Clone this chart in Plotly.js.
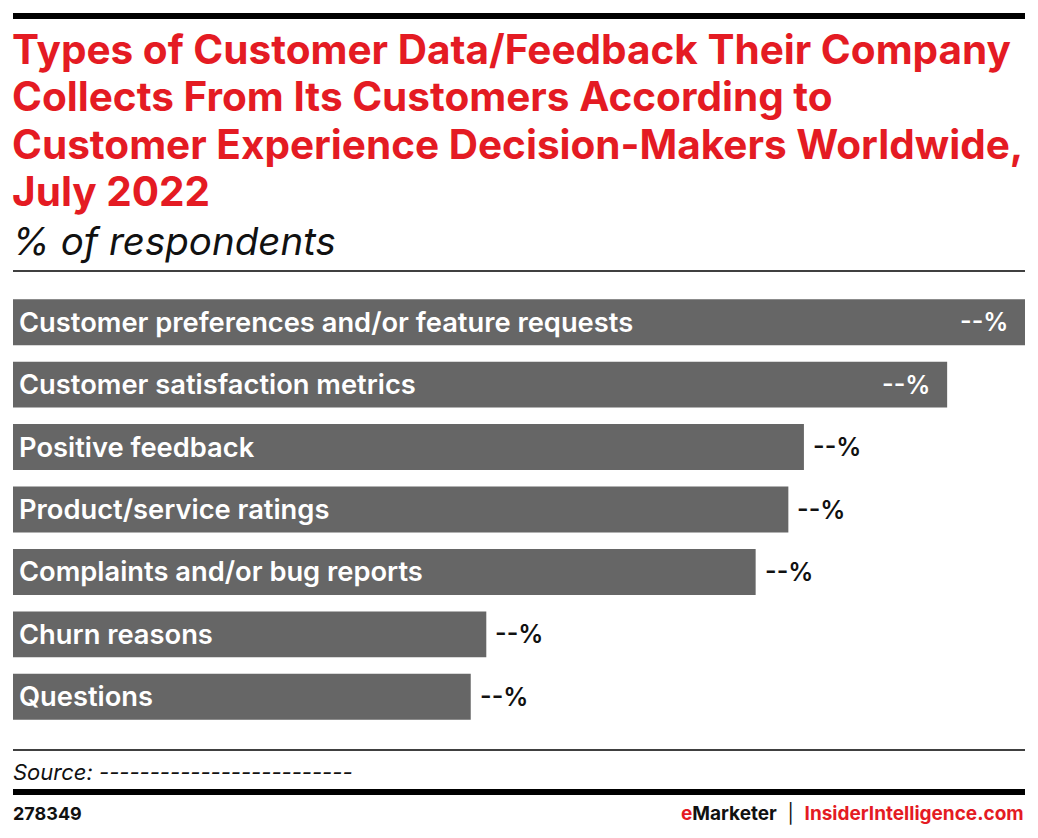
<!DOCTYPE html>
<html>
<head>
<meta charset="utf-8">
<script src="https://cdn.plot.ly/plotly-3.0.1.min.js"></script>
<style>html,body{margin:0;padding:0;background:#fff;}#chart{width:1038px;height:838px;}</style>
</head>
<body>
<div id="chart"></div>
<script>
const categories = [
  "Customer preferences and/or feature requests",
  "Customer satisfaction metrics",
  "Positive feedback",
  "Product/service ratings",
  "Complaints and/or bug reports",
  "Churn reasons",
  "Questions"
];
const values = [65, 60, 50.8, 49.8, 47.7, 30.4, 29.4];
const valueLabels = ["--%", "--%", "--%", "--%", "--%", "--%", "--%"];
const labelInside = [true, true, false, false, false, false, false];
const titleLines = [
  "Types of Customer Data/Feedback Their Company",
  "Collects From Its Customers According to",
  "Customer Experience Decision-Makers Worldwide,",
  "July 2022"
];
const subtitle = "% of respondents";
const sourceText = "Source: -------------------------";
const chartId = "278349";

const W = 1038, H = 838;
const L = 13, R = 13, T = 291, B = 110;
const PW = W - L - R, PH = H - T - B;
const px = x => (x - L) / PW;
const py = y => (H - B - y) / PH;
const RED = "#e41b23";
const FONT = "Inter, 'Noto Sans', sans-serif";

const annotations = [];
titleLines.forEach((t, i) => {
  annotations.push({
    xref: "paper", yref: "paper", x: px(10), y: py(49.5 + i * 47.3),
    xanchor: "left", yanchor: "middle", showarrow: false,
    text: t, font: {family: FONT, size: 40.5, color: RED, weight: 700}
  });
});
annotations.push({
  xref: "paper", yref: "paper", x: px(10), y: py(241),
  xanchor: "left", yanchor: "middle", showarrow: false,
  text: "<i>" + subtitle + "</i>", font: {family: FONT, size: 38.5, color: "#111", weight: 400}
});
categories.forEach((c, i) => {
  annotations.push({
    xref: "x", yref: "y", x: 0, y: c, xanchor: "left", yanchor: "middle",
    xshift: 4, showarrow: false, text: c,
    font: {family: FONT, size: 27.3, color: "#fff", weight: 600}
  });
  annotations.push({
    xref: "x", yref: "y", x: values[i], y: c,
    xanchor: labelInside[i] ? "right" : "left", yanchor: "middle",
    xshift: labelInside[i] ? -15 : 7, showarrow: false, text: valueLabels[i],
    font: {family: FONT, size: 25, color: labelInside[i] ? "#fff" : "#111", weight: 600}
  });
});
annotations.push({
  xref: "paper", yref: "paper", x: px(11), y: py(772),
  xanchor: "left", yanchor: "middle", showarrow: false,
  text: "<i>" + sourceText + "</i>", font: {family: FONT, size: 22, color: "#111"}
});
annotations.push({
  xref: "paper", yref: "paper", x: px(11), y: py(813),
  xanchor: "left", yanchor: "middle", showarrow: false,
  text: "<b>" + chartId + "</b>", font: {family: FONT, size: 18, color: "#111"}
});
annotations.push({
  xref: "paper", yref: "paper", x: px(1026), y: py(813),
  xanchor: "right", yanchor: "middle", showarrow: false,
  text: "<b><span style='color:" + RED + "'>e</span>Marketer</b>  |  <b><span style='color:" + RED + "'>InsiderIntelligence.com</span></b>",
  font: {family: FONT, size: 19, color: "#111"}
});

const shapes = [
  {type: "rect", xref: "paper", yref: "paper", x0: 0, x1: 1, y0: py(19), y1: py(13), fillcolor: "#000", line: {width: 0}},
  {type: "line", xref: "paper", yref: "paper", x0: 0, x1: 1, y0: py(271), y1: py(271), line: {color: "#000", width: 1.5}},
  {type: "line", xref: "paper", yref: "paper", x0: 0, x1: 1, y0: py(750), y1: py(750), line: {color: "#000", width: 1.5}},
  {type: "rect", xref: "paper", yref: "paper", x0: 0, x1: 1, y0: py(795), y1: py(789), fillcolor: "#000", line: {width: 0}}
];

const trace = {
  type: "bar", orientation: "h", x: values, y: categories,
  marker: {color: "#666666", line: {width: 0}},
  hoverinfo: "none", textposition: "none"
};

const layout = {
  width: W, height: H,
  margin: {l: L, r: R, t: T, b: B, pad: 0},
  paper_bgcolor: "#fff", plot_bgcolor: "#fff",
  showlegend: false, bargap: 0.264,
  xaxis: {range: [0, 65], visible: false, fixedrange: true},
  yaxis: {autorange: "reversed", visible: false, fixedrange: true},
  annotations: annotations, shapes: shapes
};

Plotly.newPlot("chart", [trace], layout, {displayModeBar: false, staticPlot: true});
</script>
</body>
</html>
